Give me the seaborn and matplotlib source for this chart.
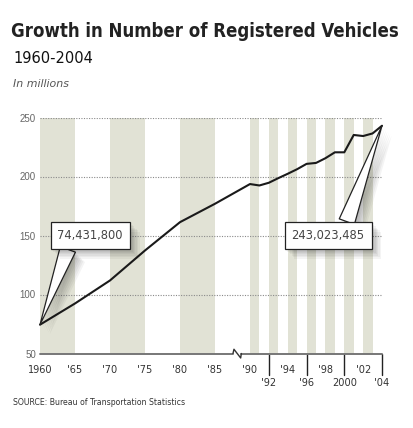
import numpy as np
import pandas as pd
import seaborn as sns
import matplotlib
matplotlib.use('Agg')
from matplotlib import pyplot as plt
from matplotlib import font_manager as fm
from matplotlib import patheffects as pe
from matplotlib import transforms as mtransforms

# data, millions of registered vehicles
years = [1960, 1965, 1970, 1975, 1980, 1985, 1990, 1991, 1992, 1993, 1994,
         1995, 1996, 1997, 1998, 1999, 2000, 2001, 2002, 2003, 2004]
vehicles = [74.43, 92.4, 111.9, 137.3, 161.3, 176.9, 193.6, 192.4, 194.7, 198.6, 202.3,
            206.2, 210.7, 211.5, 215.5, 220.5, 220.5, 235.2, 234.3, 236.5, 243.02]

y_ticks = [50, 100, 150, 200, 250]
top_row_years = [1960, 1965, 1970, 1975, 1980, 1985, 1990, 1994, 1998, 2002]
top_row_labels = ['1960', "'65", "'70", "'75", "'80", "'85", "'90", "'94", "'98", "'02"]
low_row_years = [1992, 1996, 2000, 2004]
low_row_labels = ["'92", "'96", '2000', "'04"]
odd_years = [1991, 1993, 1995, 1997, 1999, 2001, 2003]
band_starts = [1960, 1970, 1980, 1990, 1992, 1994, 1996, 1998, 2000, 2002]
band_ends = [1965, 1975, 1985, 1991, 1993, 1995, 1997, 1999, 2001, 2003]
callout_first = '74,431,800'
callout_last = '243,023,485'

df = pd.DataFrame({'year': years, 'vehicles': vehicles})


def as_weight(w):
    if isinstance(w, str):
        return {'bold': 700, 'normal': 400, 'regular': 400}.get(w, 400)
    return int(w)


def narrow_font(bold):
    # look for a narrow/condensed face, else fall back to Liberation Sans
    cands = []
    for f in fm.fontManager.ttflist:
        cond = ('Narrow' in f.name or 'Condensed' in f.name
                or str(f.stretch) in ('condensed', 'semi-condensed', 'extra-condensed'))
        if cond and f.style == 'normal':
            w = as_weight(f.weight)
            if (w >= 600) == bold:
                cands.append((abs(w - (700 if bold else 400)), f.fname))
    if cands:
        cands.sort()
        return fm.FontProperties(fname=cands[0][1])
    return fm.FontProperties(family='Liberation Sans', weight='bold' if bold else 'normal')


narrow_bold = narrow_font(True)
narrow_reg = narrow_font(False)

sns.set_style('white')
plt.rcParams['font.family'] = ['DejaVu Sans']


# broken x scale: 7 px per year until 1990, then 9.43 px per year
def fwd(x):
    x = np.asarray(x, dtype=float)
    return np.where(x <= 1990, (x - 1960) * 7.0, 210.0 + (x - 1990) * 9.43)


def inv(p):
    p = np.asarray(p, dtype=float)
    return np.where(p <= 210, 1960 + p / 7.0, 1990 + (p - 210.0) / 9.43)


fig = plt.figure(figsize=(4.13, 4.28), dpi=100)
ax = fig.add_axes([40 / 413, 74.5 / 428, 342 / 413, 236 / 428])
ax.set_xscale('function', functions=(fwd, inv))
ax.set_xlim(1960, 2004)
ax.set_ylim(50, 250)

for a, b in zip(band_starts, band_ends):
    ax.axvspan(a, b, color='#e1e2d5', lw=0, zorder=0)

ax.set_axisbelow(True)
ax.yaxis.grid(True, color='#8a8a8a', linestyle=(0, (1, 1.3)), lw=0.8)
ax.xaxis.grid(False)

sns.lineplot(data=df, x='year', y='vehicles', ax=ax, color='#1a1a1a', lw=1.5,
             zorder=3, clip_on=False)

for s in ax.spines.values():
    s.set_visible(False)

# y axis
ax.set_yticks(y_ticks)
ax.set_yticklabels([str(v) for v in y_ticks], fontsize=7, color='#666666',
                   family='Liberation Sans')
ax.tick_params(axis='y', length=0, pad=3)
ax.set_ylabel('')
ax.set_xlabel('')

# x axis ticks, two rows of labels
ax.set_xticks(top_row_years + low_row_years)
ax.set_xticklabels(top_row_labels + low_row_labels, fontproperties=narrow_reg,
                   fontsize=7.8, color='#333333')
ax.set_xticks(odd_years, minor=True)
ax.tick_params(axis='x', which='both', direction='inout', length=8, width=1,
               color='#555555', pad=4)
for tick in ax.xaxis.get_major_ticks():
    if tick.get_loc() in low_row_years:
        tick.set_pad(13.5)

tr = mtransforms.blended_transform_factory(ax.transData, ax.transAxes)
for yr in low_row_years:
    ax.plot([yr, yr], [0, -0.092], transform=tr, color='#222222', lw=1, clip_on=False)

# axis line with break mark
ax.plot([1960, 1987.57], [50, 50], color='#777777', lw=1.4, clip_on=False, zorder=4)
ax.plot([1988.76, 2004], [50, 50], color='#777777', lw=1.4, clip_on=False, zorder=4)
ax.plot([1987.57, 1987.71, 1988.67, 1988.76], [50, 53.6, 46.2, 50], color='#333333',
        lw=1, clip_on=False, zorder=4)

# callouts
shadow = [pe.SimplePatchShadow(offset=(d, -d), shadow_rgbFace='#000000', alpha=0.045)
          for d in (1, 2, 3, 4, 5, 6, 7)] + [pe.Normal()]

ann1 = ax.annotate(callout_first, xy=(years[0], vehicles[0]), xytext=(1962.5, 150),
                   ha='left', va='center', fontsize=8.3, color='#444444',
                   bbox=dict(boxstyle='square,pad=0.6', fc='white', ec='#222222', lw=0.9),
                   arrowprops=dict(arrowstyle='wedge,tail_width=1.4', fc='white',
                                   ec='#222222', lw=0.9, shrinkA=0, shrinkB=0,
                                   relpos=(0.2, 0)),
                   zorder=5)
ann2 = ax.annotate(callout_last, xy=(years[-1], vehicles[-1]), xytext=(1994.4, 150),
                   ha='left', va='center', fontsize=8.3, color='#444444',
                   bbox=dict(boxstyle='square,pad=0.6', fc='white', ec='#222222', lw=0.9),
                   arrowprops=dict(arrowstyle='wedge,tail_width=1.4', fc='white',
                                   ec='#222222', lw=0.9, shrinkA=0, shrinkB=0,
                                   relpos=(0.72, 1)),
                   zorder=5)
for ann in (ann1, ann2):
    ann.get_bbox_patch().set_path_effects(shadow)
    ann.arrow_patch.set_path_effects(shadow)

# titles
title = fig.text(11 / 413, 1 - 36.7 / 428, 'Growth in Number of Registered Vehicles',
                 fontproperties=narrow_bold, fontsize=20, color='#222222',
                 va='baseline', ha='left')
fig.text(13 / 413, 1 - 63.3 / 428, '1960-2004', fontsize=10.5, color='#111111',
         family='DejaVu Sans', va='baseline', ha='left')
fig.text(13 / 413, 1 - 87 / 428, 'In millions', fontsize=7.9, style='italic',
         color='#555555', family='DejaVu Sans', va='baseline', ha='left')
source = fig.text(13 / 413, 1 - 405 / 428, 'SOURCE: Bureau of Transportation Statistics',
                  fontproperties=narrow_reg, fontsize=8, color='#333333',
                  va='baseline', ha='left')

# shrink the title and source line to the widths they have in print
renderer = fig.canvas.get_renderer()
for txt, width in ((title, 389), (source, 171)):
    w = txt.get_window_extent(renderer).width
    if w > width:
        txt.set_fontsize(txt.get_fontsize() * width / w)

fig.savefig('out.png', dpi=100)
